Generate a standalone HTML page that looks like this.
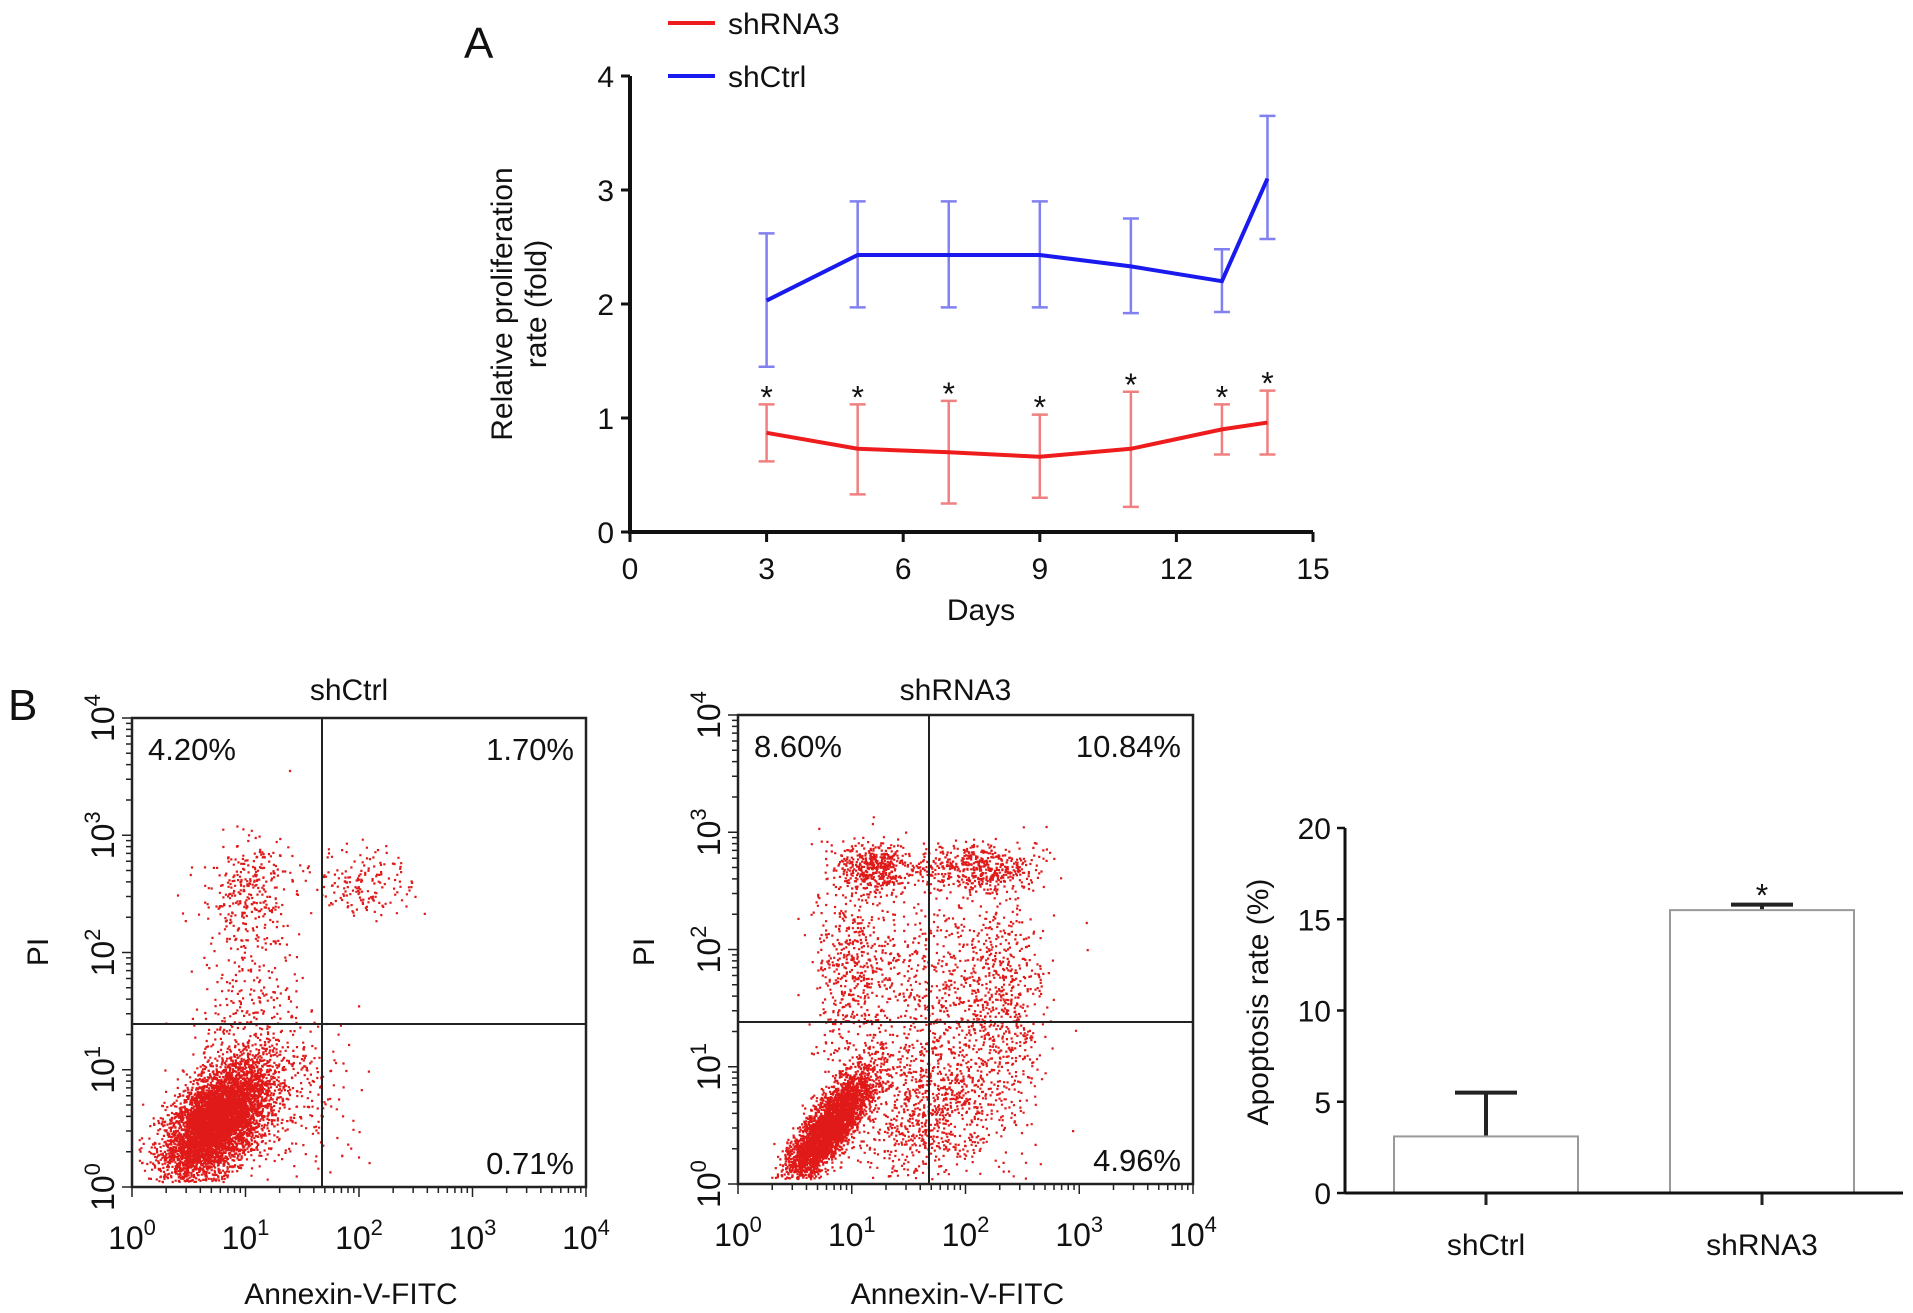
<!DOCTYPE html>
<html><head><meta charset="utf-8"><style>
html,body{margin:0;padding:0;background:#fff;}
svg{display:block;font-family:"Liberation Sans",Arial,sans-serif;}
</style></head><body>
<svg id="fig" width="1913" height="1313" viewBox="0 0 1913 1313" xmlns="http://www.w3.org/2000/svg">
<text x="464" y="58" font-size="44" fill="#111">A</text>
<text x="8" y="720" font-size="44" fill="#111">B</text>
<g id="lineChart"></g>
<g id="flow1"></g>
<g id="flow2"></g>
<g id="barChart"></g>
</svg>
<script>
// ---- Panel A data ----
const days = [3,5,7,9,11,13,14];
const ctrlMean = [2.03,2.43,2.43,2.43,2.33,2.2,3.1];
const ctrlLo = [1.45,1.97,1.97,1.97,1.92,1.93,2.57];
const ctrlHi = [2.62,2.9,2.9,2.9,2.75,2.48,3.65];
const rnaMean = [0.87,0.73,0.7,0.66,0.73,0.9,0.96];
const rnaLo = [0.62,0.33,0.25,0.3,0.22,0.68,0.68];
const rnaHi = [1.12,1.12,1.15,1.03,1.23,1.12,1.24];
const xTicksA = [0,3,6,9,12,15];
const yTicksA = [0,1,2,3,4];
// ---- Panel B bar data ----
const barCats = ["shCtrl","shRNA3"];
const barVals = [3.1,15.5];
const barErr = [5.5,15.8];
const yTicksB = [0,5,10,15,20];
// ---- Flow cytometry cluster data (log10 units) ----
const f1cx=[0.72,1.0,1.0,1.0,2.05,1.6];
const f1cy=[0.55,0.75,2.55,1.6,2.6,0.6];
const f1sx=[0.22,0.3,0.2,0.2,0.22,0.25];
const f1sy=[0.24,0.33,0.22,0.4,0.15,0.3];
const f1r=[0.55,0.4,0.2,0.2,0,0];
const f1n=[5000,800,280,260,170,80];
const f2cx=[0.8,1.7,1.2,2.1,1.0,2.3,1.7];
const f2cy=[0.5,0.7,2.7,2.7,1.8,1.6,1.8];
const f2sx=[0.18,0.35,0.17,0.25,0.18,0.2,0.3];
const f2sy=[0.22,0.35,0.1,0.1,0.45,0.5,0.4];
const f2r=[0.8,0.2,0,0,0,0,0];
const f2n=[3600,1000,450,480,500,600,400];
const logTicks=[0,1,2,3,4];
const q1=["4.20%","1.70%","0.71%"], q2=["8.60%","10.84%","4.96%"];
const NS="http://www.w3.org/2000/svg";
function mk(tag,attrs,parent,txt){const e=document.createElementNS(NS,tag);for(const k in attrs)e.setAttribute(k,attrs[k]);if(txt!==undefined)e.textContent=txt;parent.appendChild(e);return e;}

// ---- Panel A ----
(function(){
const g=document.getElementById('lineChart');
const X0=630,X1=1313,Y0=532,Y1=76;
const sx=v=>X0+(v-0)/15*(X1-X0), sy=v=>Y0-(v/4)*(Y0-Y1);
let e;
e=mk('line',{x1:X0,y1:Y0,x2:X1,y2:Y0,stroke:'#111','stroke-width':4},g);

e=mk('line',{x1:X0,y1:Y0+2,x2:X0,y2:Y1,stroke:'#111','stroke-width':4},g);

xTicksA.forEach(t=>{mk('line',{x1:sx(t),y1:Y0,x2:sx(t),y2:Y0+10,stroke:'#111','stroke-width':3},g);
 e=mk('text',{x:sx(t),y:Y0+47,'font-size':30,'text-anchor':'middle',fill:'#111'},g,t);
 });
yTicksA.forEach(t=>{mk('line',{x1:X0-9,y1:sy(t),x2:X0,y2:sy(t),stroke:'#111','stroke-width':3},g);
 e=mk('text',{x:X0-16,y:sy(t)+11,'font-size':30,'text-anchor':'end',fill:'#111'},g,t);
 });
e=mk('text',{x:981,y:620,'font-size':30,'text-anchor':'middle',fill:'#111'},g,'Days');

e=mk('text',{transform:'translate(512,304) rotate(-90)','font-size':30,'text-anchor':'middle',fill:'#111'},g,'Relative proliferation');

e=mk('text',{transform:'translate(546,304) rotate(-90)','font-size':30,'text-anchor':'middle',fill:'#111'},g,'rate (fold)');

function series(mean,lo,hi,col,ecol,name,star){
 days.forEach((d,i)=>{const x=sx(d);
  e=mk('path',{d:`M${x},${sy(lo[i])}V${sy(hi[i])}M${x-8},${sy(lo[i])}H${x+8}M${x-8},${sy(hi[i])}H${x+8}`,stroke:ecol,'stroke-width':2.5,fill:'none'},g);
  
  if(star){e=mk('text',{x:x,y:sy(hi[i])+4,'font-size':32,'text-anchor':'middle',fill:'#111'},g,'*');
   }
 });
 e=mk('polyline',{points:days.map((d,i)=>sx(d)+','+sy(mean[i])).join(' '),stroke:col,'stroke-width':4,fill:'none'},g);
 
}
series(ctrlMean,ctrlLo,ctrlHi,'#1a1aee','#8080f0','shctrl',false);
series(rnaMean,rnaLo,rnaHi,'#ee1c1c','#f08080','shrna3',true);
e=mk('line',{x1:668,y1:23,x2:715,y2:23,stroke:'#ee1c1c','stroke-width':4},g);

e=mk('text',{x:728,y:34,'font-size':30,fill:'#111'},g,'shRNA3');

e=mk('line',{x1:668,y1:76,x2:715,y2:76,stroke:'#1a1aee','stroke-width':4},g);

e=mk('text',{x:728,y:87,'font-size':30,fill:'#111'},g,'shCtrl');

})();

// ---- Flow plots ----
function flow(id,L,R,T,B,vx,hy,cx,cy,sxa,sya,ra,na,labels,title,seed){
 const g=document.getElementById(id);
 const px=v=>L+v/4*(R-L), py=v=>B-v/4*(B-T);
 let s=seed;const rnd=()=>{s=(s*1103515245+12345)%2147483648;return (s+0.5)/2147483648;};
 const gauss=()=>Math.sqrt(-2*Math.log(rnd()))*Math.cos(2*Math.PI*rnd());
 let d='';
 for(let c=0;c<cx.length;c++){for(let i=0;i<na[c];i++){
  const a=gauss(),b=gauss();const xv=cx[c]+sxa[c]*a;const yv=cy[c]+sya[c]*(ra[c]*a+Math.sqrt(1-ra[c]*ra[c])*b);
  if(xv<0.05||xv>3.95||yv<0.05||yv>3.95)continue;
  const X=px(xv),Y=py(yv);d+=`M${X.toFixed(1)},${Y.toFixed(1)}h2.2v2.2h-2.2z`;}}
 let e=mk('path',{d:d,fill:'#dd0000','fill-opacity':0.9},g);
 
 e=mk('rect',{x:L,y:T,width:R-L,height:B-T,fill:'none',stroke:'#222','stroke-width':2.5},g);
 
 e=mk('line',{x1:vx,y1:T,x2:vx,y2:B,stroke:'#222','stroke-width':2},g);
 
 e=mk('line',{x1:L,y1:hy,x2:R,y2:hy,stroke:'#222','stroke-width':2},g);
 
 let md='';
 for(let dcd=0;dcd<4;dcd++)for(let k=1;k<=10;k++){const v=dcd+Math.log10(k);
  const len=(k===1||k===10)?10:6;md+=`M${px(v)},${B}v${len}M${L},${py(v)}h-${len}`;}
 mk('path',{d:md,stroke:'#222','stroke-width':1.5,fill:'none'},g);
 logTicks.forEach(t=>{
  e=mk('text',{x:px(t),y:B+62,'font-size':32,'text-anchor':'middle',fill:'#111'},g);
  
  mk('tspan',{},e,'10');mk('tspan',{dy:-14,'font-size':22},e,String(t));
  e=mk('text',{transform:`translate(${L-18},${py(t)}) rotate(-90)`,'font-size':32,'text-anchor':'middle',fill:'#111'},g);
  
  mk('tspan',{},e,'10');mk('tspan',{dy:-14,'font-size':22},e,String(t));
 });
 e=mk('text',{x:L+16,y:T+42,'font-size':31,fill:'#111'},g,labels[0]);
 
 e=mk('text',{x:R-12,y:T+42,'font-size':31,'text-anchor':'end',fill:'#111'},g,labels[1]);
 
 e=mk('text',{x:R-12,y:B-13,'font-size':31,'text-anchor':'end',fill:'#111'},g,labels[2]);
 
 e=mk('text',{x:(L+R)/2-10,y:700,'font-size':30,'text-anchor':'middle',fill:'#111'},g,title);
 
 e=mk('text',{x:(L+R)/2-8,y:1304,'font-size':30,'text-anchor':'middle',fill:'#111'},g,'Annexin-V-FITC');
 
 e=mk('text',{transform:`translate(${L-84},952) rotate(-90)`,'font-size':30,'text-anchor':'middle',fill:'#111'},g,'PI');
 
}
flow('flow1',132,586,718,1187,322,1024,f1cx,f1cy,f1sx,f1sy,f1r,f1n,q1,'shCtrl',12345);
flow('flow2',738,1193,715,1184,929,1022,f2cx,f2cy,f2sx,f2sy,f2r,f2n,q2,'shRNA3',54321);

// ---- Bar chart ----
(function(){
const g=document.getElementById('barChart');
const X0=1345,X1=1903,Y0=1193,Y1=828;
const sy=v=>Y0-v/20*(Y0-Y1);
const centers=[1486,1762],bw=184;
let e;
barCats.forEach((c,i)=>{const cx=centers[i];
 e=mk('path',{d:`M${cx},${sy(barVals[i])}V${sy(barErr[i])}M${cx-31},${sy(barErr[i])}H${cx+31}`,stroke:'#222','stroke-width':4,fill:'none'},g);
 
 e=mk('rect',{x:cx-bw/2,y:sy(barVals[i]),width:bw,height:Y0-sy(barVals[i]),fill:'#fff',stroke:'#999','stroke-width':2},g);
 
 mk('line',{x1:cx,y1:Y0,x2:cx,y2:Y0+12,stroke:'#222','stroke-width':3},g);
 e=mk('text',{x:cx,y:1255,'font-size':30,'text-anchor':'middle',fill:'#111'},g,c);
 
});
e=mk('text',{x:centers[1],y:sy(barErr[1])+2,'font-size':32,'text-anchor':'middle',fill:'#111'},g,'*');

e=mk('line',{x1:X0,y1:Y0,x2:X1,y2:Y0,stroke:'#111','stroke-width':3},g);

e=mk('line',{x1:X0,y1:Y0,x2:X0,y2:Y1,stroke:'#111','stroke-width':3},g);

yTicksB.forEach(t=>{mk('line',{x1:X0-8,y1:sy(t),x2:X0,y2:sy(t),stroke:'#111','stroke-width':2.5},g);
 e=mk('text',{x:X0-14,y:sy(t)+11,'font-size':30,'text-anchor':'end',fill:'#111'},g,t);
 });
e=mk('text',{transform:'translate(1268,1002) rotate(-90)','font-size':30,'text-anchor':'middle',fill:'#111'},g,'Apoptosis rate (%)');

})();
</script>
</body></html>
